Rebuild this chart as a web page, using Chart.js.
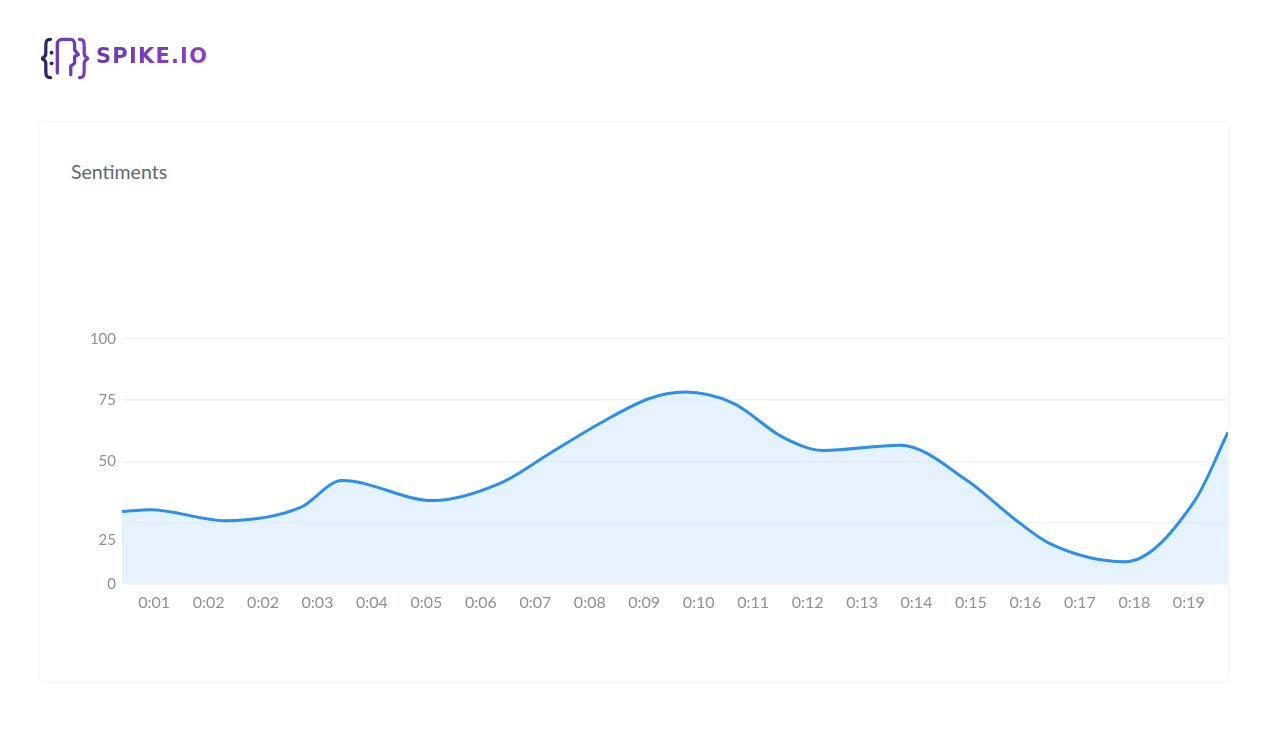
<!DOCTYPE html>
<html>
<head>
<meta charset="utf-8">
<script src="https://cdn.jsdelivr.net/npm/chart.js@4"></script>
<style>
  html, body { margin: 0; padding: 0; background: #ffffff; }
  body { width: 1288px; height: 738px; position: relative; overflow: hidden; font-family: Lato, "Open Sans", sans-serif; }
  #logo { position: absolute; left: 41px; top: 36px; }
  #brand { position: absolute; left: 96px; top: 44px; font-family: "DejaVu Sans", sans-serif; font-weight: bold; font-size: 21px; letter-spacing: 1.2px;
    background: linear-gradient(90deg, #6a3bb7, #8f3fc4); -webkit-background-clip: text; background-clip: text; color: transparent; }
  #card { position: absolute; left: 40px; top: 123px; width: 1188px; height: 558px; background: #fff;
    border-radius: 4px; box-shadow: 0 0 5px rgba(0,0,0,0.09); }
  #title { position: absolute; left: 71px; top: 160px; font-size: 19.5px; color: #62676f; font-family: Lato, sans-serif; }
  #wrap { position: absolute; left: 40px; top: 123px; width: 1189px; height: 559px; }
</style>
</head>
<body>
<svg id="logo" width="48" height="45" viewBox="0 0 50 46">
  <path d="M10 3 C5 3 5 6 5 11 L5 18 C5 21 3 22 1 23 C3 24 5 25 5 28 L5 35 C5 40 5 43 10 43" fill="none" stroke="#2c2766" stroke-width="3.4" stroke-linecap="round"/>
  <circle cx="11" cy="17" r="2" fill="#2c2766"/>
  <circle cx="11" cy="28" r="2" fill="#2c2766"/>
  <path d="M17 38 L17 8 C17 5 19 3 22 3 L30 3 C34 3 35 5 35 9 L35 14 L39 19 L35 21 L35 28 L31 31 L31 40" fill="none" stroke="#6d3bb8" stroke-width="3.4" stroke-linejoin="round" stroke-linecap="round"/>
  <path d="M40 3 C45 3 45 6 45 11 L45 18 C45 21 47 22 49 23 C47 24 45 25 45 28 L45 35 C45 40 45 43 40 43" fill="none" stroke="#7c3dbe" stroke-width="3.4" stroke-linecap="round"/>
</svg>
<div id="brand">SPIKE.IO</div>
<div id="card"></div>
<div id="title">Sentiments</div>
<div id="wrap"><canvas id="c" width="1189" height="559"></canvas></div>
<script>
// Tick labels of the time axis (one per tick, positions 0..19)
const timeLabels = ["0:01","0:02","0:02","0:03","0:04","0:05","0:06","0:07","0:08","0:09",
                    "0:10","0:11","0:12","0:13","0:14","0:15","0:16","0:17","0:18","0:19"];
// Sample positions along the time axis (in tick units)
const sampleTimes = [-0.59, -0.07, 1.30, 2.68, 3.45, 5.12, 6.35, 7.27, 8.19, 9.11, 9.75,
                     10.63, 11.55, 12.28, 13.70, 14.93, 15.77, 16.45, 17.83, 19.11, 19.72];
// Sentiment values
const sentimentValues = [29.5, 30.3, 25.8, 31.1, 42.2, 34.0, 41.0, 53.3, 65.6, 75.8, 78.3,
                         73.8, 59.8, 54.5, 56.6, 42.2, 27.0, 16.4, 9.0, 34.0, 61.9];
const yTicks = [0, 25, 50, 75, 100];
// In the reference the "25" label sits lower than its gridline
const loweredTick = 25;

const points = sampleTimes.map((t, i) => ({ x: t, y: sentimentValues[i] }));

new Chart(document.getElementById('c'), {
  type: 'line',
  data: {
    datasets: [{
      data: points,
      borderColor: '#2b8ff0',
      borderWidth: 3,
      backgroundColor: 'rgba(214,233,252,0.6)',
      fill: 'origin',
      pointRadius: 0,
      cubicInterpolationMode: 'monotone'
    }]
  },
  options: {
    responsive: false,
    animation: false,
    layout: { padding: { top: 216, right: 1, bottom: 69, left: 0 } },
    plugins: { legend: { display: false }, tooltip: { enabled: false } },
    scales: {
      x: {
        type: 'linear',
        min: sampleTimes[0],
        max: sampleTimes[sampleTimes.length - 1],
        afterBuildTicks: (s) => { s.ticks = timeLabels.map((_, i) => ({ value: i })); },
        ticks: {
          autoSkip: false, maxRotation: 0, padding: 1,
          color: '#8b9099', font: { family: 'Lato', size: 16 },
          callback: (v) => timeLabels[v]
        },
        grid: { display: false },
        border: { display: false }
      },
      y: {
        min: 0, max: 100,
        afterBuildTicks: (s) => { s.ticks = yTicks.map(v => ({ value: v })); },
        afterFit: (s) => { s.width = 82; },
        ticks: {
          padding: 6, color: '#8b9099', font: { family: 'Lato', size: 15 },
          callback: (v) => v === loweredTick ? ['', '', String(v)] : String(v)
        },
        grid: { color: '#f3f3f3', drawTicks: false, lineWidth: 1.5 },
        border: { display: false }
      }
    }
  }
});
</script>
</body>
</html>
